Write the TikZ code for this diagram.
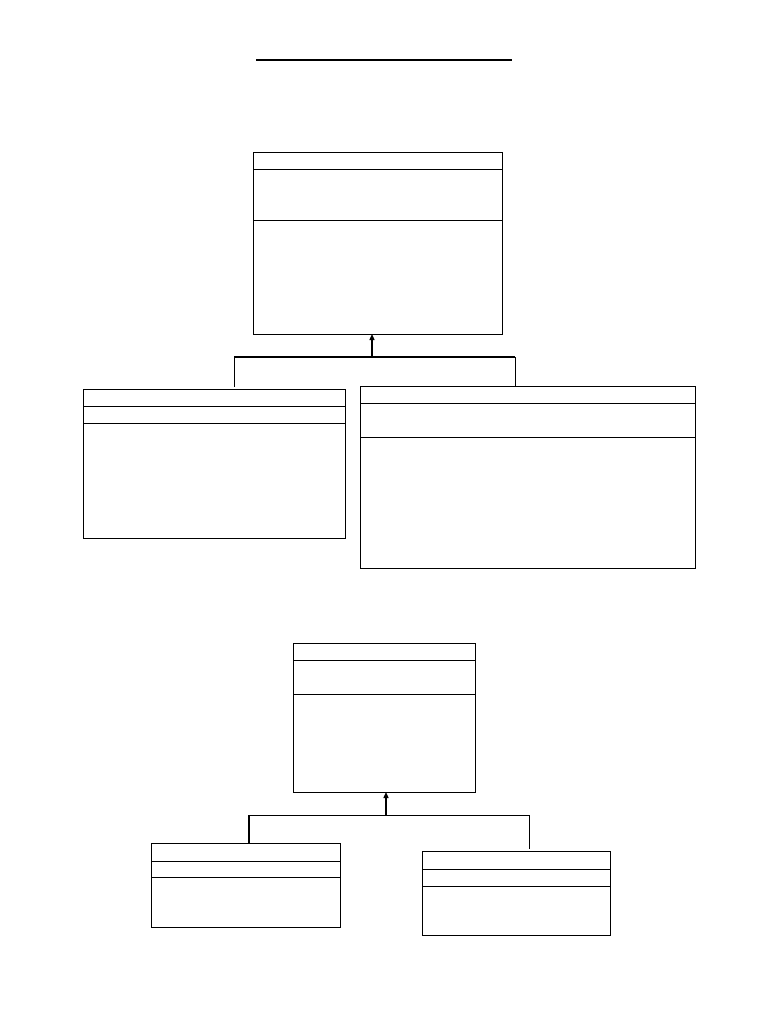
\documentclass[tikz,border=0pt]{standalone}
\usetikzlibrary{arrows.meta}
\begin{document}
\begin{tikzpicture}[x=1pt,y=-1pt,
  umlbox/.style={draw, line width=0.8pt, inner sep=0pt, outer sep=0pt, anchor=north west},
  divider/.style={line width=0.8pt},
  bar/.style={line width=1.3pt},
  leg/.style={line width=0.8pt},
  inherit/.style={line width=1.3pt, -{Triangle[width=5pt,length=6pt]}}]
\useasboundingbox (0,0) rectangle (768,1024);
\newcommand{\umlclass}[7]{%
  \node[umlbox, minimum width=#4-#2, minimum height=#5-#3] (#1) at (#2,#3) {};
  \draw[divider] (#1.west |- 0,#6) -- (#1.east |- 0,#6);
  \draw[divider] (#1.west |- 0,#7) -- (#1.east |- 0,#7);}
% title line
\coordinate (t1) at (256,60);
\coordinate (t2) at (512,60);
\draw[line width=1.5pt] (t1) -- (t2);
% first hierarchy
\umlclass{A}{253}{152}{502}{334}{169}{220}
\umlclass{B}{83}{389}{345}{538}{406}{423}
\umlclass{C}{360}{386}{695}{568}{403}{437}
\coordinate (ja) at (372,357);
\coordinate (bl1) at (234,357);
\coordinate (br1) at (515,357);
\draw[bar] (bl1) -- (br1);
\draw[inherit] (ja) -- (ja |- A.south);
\draw[leg] (bl1) -- ([yshift=2pt]bl1 |- B.north);
\draw[leg] (br1) -- (br1 |- C.north);
% second hierarchy
\umlclass{D}{293}{643}{475}{792}{660}{694}
\umlclass{E}{151}{843}{340}{927}{861}{877}
\umlclass{F}{422}{851}{610}{935}{869}{886}
\coordinate (jd) at (386,815);
\coordinate (bl2) at (249,815);
\coordinate (br2) at (529,815);
\draw[leg] (bl2) -- (br2);
\draw[inherit] (jd) -- (jd |- D.south);
\draw[bar] (bl2) -- (bl2 |- E.north);
\draw[leg] (br2) -- ([yshift=2pt]br2 |- F.north);
\end{tikzpicture}
\end{document}
